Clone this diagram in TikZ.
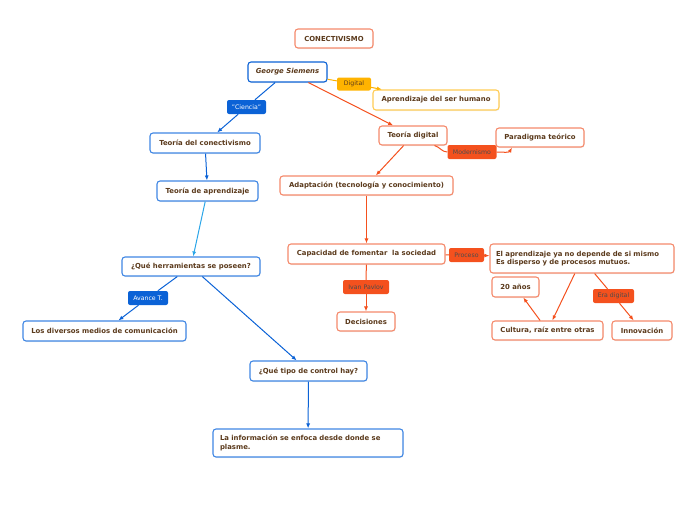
\documentclass[tikz,border=0pt]{standalone}
\usepackage{fontspec}
\setmainfont{DejaVu Sans}
\usepackage{tikz}
\usetikzlibrary{arrows.meta,shadows}
\definecolor{ink}{HTML}{5B3A1C}
\definecolor{blu}{HTML}{0B62D6}
\definecolor{blulite}{HTML}{3F86E4}
\definecolor{sky}{HTML}{2AA5E8}
\definecolor{org}{HTML}{F4511E}
\definecolor{orglite}{HTML}{F5896B}
\definecolor{yel}{HTML}{FFB300}
\definecolor{yellite}{HTML}{FFCC55}
\tikzset{
  wh/.style 2 args={minimum width=#1pt, minimum height=#2pt},
  box/.style={draw, fill=white, rounded corners=3pt, line width=1.1pt, text=ink,
    font=\fontsize{6.9}{8.2}\selectfont\bfseries, inner sep=0pt, align=center,
    drop shadow={opacity=0.12, shadow xshift=0.6pt, shadow yshift=-1pt}},
  bbox/.style={box, draw=blulite},
  obox/.style={box, draw=orglite},
  ybox/.style={box, draw=yellite},
  tag/.style={rounded corners=2pt, inner sep=0pt, font=\fontsize{6.2}{7}\selectfont},
  btag/.style={tag, fill=blu, text=white},
  otag/.style={tag, fill=org, text=black!70},
  ytag/.style={tag, fill=yel, text=ink},
  bl/.style={draw=blu, line width=1pt},
  sl/.style={draw=sky, line width=1pt},
  ol/.style={draw=org, line width=1pt},
  yl/.style={draw=yel, line width=1pt},
  tip/.style={-{Latex[length=5pt,width=4pt]}},
}
\begin{document}
\begin{tikzpicture}[x=1pt,y=-1pt]
  \useasboundingbox (0,0) rectangle (697,520);
  % boxes
  \node[obox,wh={78}{19}] (con) at (334,38.5) {CONECTIVISMO};
  \node[box,draw=blu,wh={79}{20},font=\fontsize{6.9}{8.2}\selectfont\bfseries\itshape] (gs) at (287.5,72) {George Siemens};
  \node[ybox,wh={126}{20}] (ash) at (436,100) {Aprendizaje del ser humano};
  \node[bbox,wh={110}{20}] (tcon) at (205,143) {Teoría del conectivismo};
  \node[obox,wh={68}{19}] (tdig) at (413,135.5) {Teoría digital};
  \node[obox,wh={88}{19}] (par) at (540,137.5) {Paradigma teórico};
  \node[obox,wh={173}{19}] (adap) at (366.5,185.5) {Adaptación (tecnología y conocimiento)};
  \node[bbox,wh={101}{20}] (tapr) at (207.5,191) {Teoría de aprendizaje};
  \node[obox,wh={157}{20}] (cap) at (366.5,254) {Capacidad de fomentar~ la sociedad};
  \node[obox,wh={184}{29},align=left,text width=172pt] (apr) at (582,258.5) {El aprendizaje ya no depende de si mismo\\Es disperso y de procesos mutuos.};
  \node[bbox,wh={138}{19}] (qh) at (191,266.5) {¿Qué herramientas se poseen?};
  \node[obox,wh={47}{20}] (anos) at (515.5,287) {20 años};
  \node[obox,wh={58}{19}] (dec) at (366,321.5) {Decisiones};
  \node[bbox,wh={163}{20}] (med) at (104.5,331) {Los diversos medios de comunicación};
  \node[obox,wh={111}{19}] (cul) at (547.5,330.5) {Cultura, raíz entre otras};
  \node[obox,wh={60}{19}] (inn) at (642,330.5) {Innovación};
  \node[bbox,wh={117}{20}] (qt) at (308.5,371) {¿Qué tipo de control hay?};
  \node[bbox,wh={190}{28},align=left,text width=176pt] (info) at (308,443) {La información se enfoca desde donde se\\plasme.};
  % tags
  \node[ytag,wh={34}{13}] (dig) at (354,84) {Digital};
  \node[btag,wh={39}{14}] (cien) at (246.5,107) {"Ciencia"};
  \node[otag,wh={49}{14}] (mod) at (472,152) {Modernismo};
  \node[otag,wh={35}{14}] (proc) at (466.5,255) {Proceso};
  \node[otag,wh={46}{14}] (pav) at (366,287) {Ivan Pavlov};
  \node[otag,wh={41}{14}] (era) at (613.5,296) {Era digital};
  \node[btag,wh={40}{14}] (av) at (148,298) {Avance T.};
  % connectors
  \draw[yl] (gs) -- (dig);
  \draw[yl,tip] (dig) -- (ash);
  \draw[bl] (gs) -- (cien);
  \draw[bl,tip] (cien) -- (tcon);
  \draw[ol,tip] (gs) -- (tdig);
  \draw[ol,tip] (tdig) -- (adap);
  \draw[ol] ([xshift=-13pt]tdig.south east) to[out=-15,in=180] (mod.west);
  \draw[ol,tip] (mod.east) to[out=0,in=-120] ([xshift=-28pt]par.south);
  \draw[ol,tip] (adap) -- (cap);
  \draw[ol] (cap) -- (proc);
  \draw[ol,tip] (proc) -- (apr);
  \draw[ol] (cap) -- (pav);
  \draw[ol,tip] (pav) -- (dec);
  \draw[ol,tip] (apr) -- (cul);
  \draw[ol,tip] (cul) -- (anos);
  \draw[ol] (apr) -- (era);
  \draw[ol,tip] (era) -- (inn);
  \draw[bl,tip] (tcon) -- (tapr);
  \draw[sl,tip] (tapr) -- (qh);
  \draw[bl] (qh) -- (av);
  \draw[bl,tip] (av) -- (med);
  \draw[bl,tip] (qh) -- (qt);
  \draw[bl,tip] (qt) -- (info);
\end{tikzpicture}
\end{document}
